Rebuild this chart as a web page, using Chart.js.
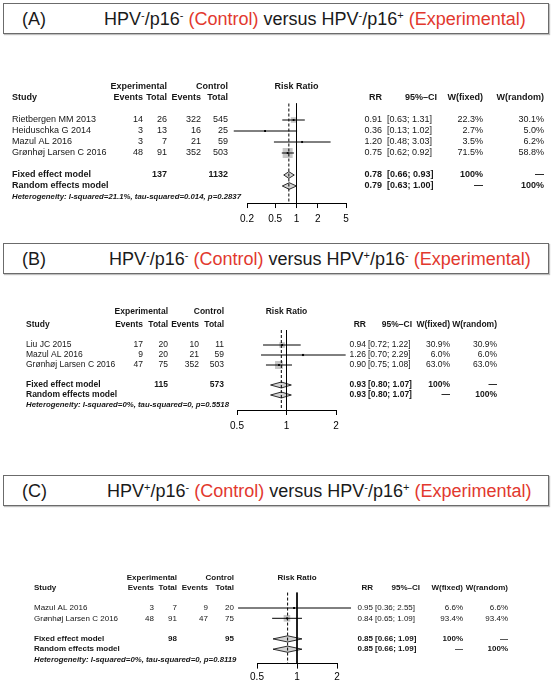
<!DOCTYPE html>
<html>
<head>
<meta charset="utf-8">
<script src="https://cdn.jsdelivr.net/npm/chart.js@4.4.1/dist/chart.umd.min.js"></script>
<style>
  html, body { margin: 0; padding: 0; background: #fff; }
  body { width: 552px; height: 685px; position: relative; overflow: hidden; font-family: "Liberation Sans", Arial, sans-serif; }
  .title { position: absolute; left: 3px; width: 544px; height: 29px; border: 1px solid #6b6b6b; box-shadow: 1px 1px 1px rgba(0,0,0,0.25); color: #1a1a1a; font-size: 18px; white-space: nowrap; }
  .title .tag { position: absolute; left: 18px; top: 5px; }
  .title .txt { position: absolute; top: 5px; }
  .title .red { color: #e2382e; }
  .title sup { font-size: 11px; vertical-align: 6px; line-height: 0; }
  .panel { position: absolute; left: 0; width: 552px; }
</style>
</head>
<body>

<div class="title" style="top:3px"><span class="tag">(A)</span><span class="txt" style="left:100px">HPV<sup>-</sup>/p16<sup>-</sup> <span class="red">(Control)</span> versus HPV<sup>-</sup>/p16<sup>+</sup> <span class="red">(Experimental)</span></span></div>
<div class="panel" style="top:60px;height:175px"><canvas id="forestA"></canvas></div>

<div class="title" style="top:243px"><span class="tag">(B)</span><span class="txt" style="left:105px">HPV<sup>-</sup>/p16<sup>-</sup> <span class="red">(Control)</span> versus HPV<sup>+</sup>/p16<sup>-</sup> <span class="red">(Experimental)</span></span></div>
<div class="panel" style="top:290px;height:150px"><canvas id="forestB"></canvas></div>

<div class="title" style="top:475px"><span class="tag">(C)</span><span class="txt" style="left:103px">HPV<sup>+</sup>/p16<sup>-</sup> <span class="red">(Control)</span> versus HPV<sup>-</sup>/p16<sup>+</sup> <span class="red">(Experimental)</span></span></div>
<div class="panel" style="top:560px;height:125px"><canvas id="forestC"></canvas></div>

<script>
// ---- (A) HPV-/p16- vs HPV-/p16+
const studiesA = ['Rietbergen MM 2013', 'Heiduschka G 2014', 'Mazul AL 2016', 'Grønhøj Larsen C 2016'];
const expEventsA = [14, 3, 3, 48];
const expTotalA = [26, 13, 7, 91];
const ctrlEventsA = [322, 16, 21, 352];
const ctrlTotalA = [545, 25, 59, 503];
const rrA = [0.91, 0.36, 1.20, 0.75];
const lowerA = [0.63, 0.13, 0.48, 0.62];
const upperA = [1.31, 1.02, 3.03, 0.92];
const wFixedA = [22.3, 2.7, 3.5, 71.5];
const wRandomA = [30.1, 5.0, 6.2, 58.8];
const modelRrA = [0.78, 0.79];     // fixed, random
const modelLowerA = [0.66, 0.63];
const modelUpperA = [0.93, 1.00];
const totalsA = [137, 1132];
const hetA = 'Heterogeneity: I-squared=21.1%, tau-squared=0.014, p=0.2837';
const ticksA = [0.2, 0.5, 1, 2, 5];
const tickLabelsA = ['0.2', '0.5', '1', '2', '5'];

// ---- (B) HPV-/p16- vs HPV+/p16-
const studiesB = ['Liu JC 2015', 'Mazul AL 2016', 'Grønhøj Larsen C 2016'];
const expEventsB = [17, 9, 47];
const expTotalB = [20, 20, 75];
const ctrlEventsB = [10, 21, 352];
const ctrlTotalB = [11, 59, 503];
const rrB = [0.94, 1.26, 0.90];
const lowerB = [0.72, 0.70, 0.75];
const upperB = [1.22, 2.29, 1.08];
const wFixedB = [30.9, 6.0, 63.0];
const wRandomB = [30.9, 6.0, 63.0];
const modelRrB = [0.93, 0.93];
const modelLowerB = [0.80, 0.80];
const modelUpperB = [1.07, 1.07];
const totalsB = [115, 573];
const hetB = 'Heterogeneity: I-squared=0%, tau-squared=0, p=0.5518';
const ticksB = [0.5, 1, 2];
const tickLabelsB = ['0.5', '1', '2'];

// ---- (C) HPV+/p16- vs HPV-/p16+
const studiesC = ['Mazul AL 2016', 'Grønhøj Larsen C 2016'];
const expEventsC = [3, 48];
const expTotalC = [7, 91];
const ctrlEventsC = [9, 47];
const ctrlTotalC = [20, 75];
const rrC = [0.95, 0.84];
const lowerC = [0.36, 0.65];
const upperC = [2.55, 1.09];
const wFixedC = [6.6, 93.4];
const wRandomC = [6.6, 93.4];
const modelRrC = [0.85, 0.85];
const modelLowerC = [0.66, 0.66];
const modelUpperC = [1.09, 1.09];
const totalsC = [98, 95];
const hetC = 'Heterogeneity: I-squared=0%, tau-squared=0, p=0.8119';
const ticksC = [0.5, 1, 2];
const tickLabelsC = ['0.5', '1', '2'];

// layout of each panel (pixels, page coordinates)
const layoutA = { top: 60, height: 175, rowTop: 120, rowStep: 11, axisRow: 7.55, headRows: [-3, -2], left: 247, right: 346, tickPad: 5,
  font: 9, hetFont: 7.8,
  studyX: 12, expEv: 143, expTot: 167, ctlEv: 201, ctlTot: 228, rr: 382, ci: 387, ciEnd: 437, wf: 483, wr: 544, box: 1.18 };
const layoutB = { top: 290, height: 150, rowTop: 345, rowStep: 10, axisRow: 6.5, headRows: [-3.3, -2], left: 237, right: 336, tickPad: 5,
  font: 8.5, hetFont: 7.8,
  studyX: 26, expEv: 143, expTot: 168, ctlEv: 199, ctlTot: 224, rr: 366, ci: 368, ciEnd: 412, wf: 450, wr: 497, box: 1.0 };
const layoutC = { top: 560, height: 125, rowTop: 608, rowStep: 10.3, axisRow: 5.4, headRows: [-2.9, -1.95], left: 257, right: 337, tickPad: 3,
  font: 8, hetFont: 7.8,
  studyX: 34, expEv: 154, expTot: 177, ctlEv: 208, ctlTot: 234, rr: 373, ci: 375, ciEnd: 420, wf: 463, wr: 508, box: 0.68 };

const FAM = '"Liberation Sans", Arial, sans-serif';
const AXIS_H = 21;
const INK = '#161616';

const fmt2 = (v) => v.toFixed(2);
const ciText = (lo, hi) => '[' + fmt2(lo) + '; ' + fmt2(hi) + ']';

// draws the study table around the plot
const tablePlugin = {
  id: 'forestTable',
  afterDraw(chart, args, opts) {
    const { ctx, chartArea } = chart;
    const y = chart.scales.y;
    const d = opts.d, L = opts.L;
    const py = (r) => y.getPixelForValue(r);
    const n = d.studies.length;
    const normal = L.font + 'px ' + FAM, bold = 'bold ' + L.font + 'px ' + FAM;

    ctx.save();
    ctx.fillStyle = INK;
    ctx.textBaseline = 'middle';
    const put = (s, x, r, align, font) => {
      ctx.font = font;
      ctx.textAlign = align;
      ctx.fillText(String(s), x, py(r));
    };

    // headers
    const h1 = L.headRows[0], h2 = L.headRows[1];
    put('Experimental', L.expTot, h1, 'right', bold);
    put('Control', L.ctlTot, h1, 'right', bold);
    put('Risk Ratio', (chartArea.left + chartArea.right) / 2, h1, 'center', bold);
    put('Study', L.studyX, h2, 'left', bold);
    put('Events', L.expEv, h2, 'right', bold);
    put('Total', L.expTot, h2, 'right', bold);
    put('Events', L.ctlEv, h2, 'right', bold);
    put('Total', L.ctlTot, h2, 'right', bold);
    put('RR', L.rr, h2, 'right', bold);
    put('95%\u2013CI', L.ciEnd, h2, 'right', bold);
    put('W(fixed)', L.wf, h2, 'right', bold);
    put('W(random)', L.wr, h2, 'right', bold);

    // studies
    d.studies.forEach((s, i) => {
      put(s, L.studyX, i, 'left', normal);
      put(d.expEvents[i], L.expEv, i, 'right', normal);
      put(d.expTotal[i], L.expTot, i, 'right', normal);
      put(d.ctrlEvents[i], L.ctlEv, i, 'right', normal);
      put(d.ctrlTotal[i], L.ctlTot, i, 'right', normal);
      put(fmt2(d.rr[i]), L.rr, i, 'right', normal);
      put(ciText(d.lower[i], d.upper[i]), L.ci, i, 'left', normal);
      put(d.wFixed[i].toFixed(1) + '%', L.wf, i, 'right', normal);
      put(d.wRandom[i].toFixed(1) + '%', L.wr, i, 'right', normal);
    });

    // pooled models
    const names = ['Fixed effect model', 'Random effects model'];
    names.forEach((name, k) => {
      const r = n + 1 + k;
      put(name, L.studyX, r, 'left', bold);
      if (k === 0) {
        put(d.totals[0], L.expTot, r, 'right', bold);
        put(d.totals[1], L.ctlTot, r, 'right', bold);
      }
      put(fmt2(d.modelRr[k]), L.rr, r, 'right', bold);
      put(ciText(d.modelLower[k], d.modelUpper[k]), L.ci, r, 'left', bold);
      put(k === 0 ? '100%' : '\u2014', L.wf, r, 'right', bold);
      put(k === 0 ? '\u2014' : '100%', L.wr, r, 'right', bold);
    });

    put(d.het, L.studyX, n + 3, 'left', 'italic bold ' + L.hetFont + 'px ' + FAM);
    ctx.restore();
  }
};

function buildDatasets(d, L) {
  const n = d.studies.length;
  const ds = [];
  const line = (pts, extra) => Object.assign({ data: pts, showLine: true, borderColor: '#000', borderWidth: 1, pointRadius: 0, tension: 0 }, extra);

  // line of no effect and fixed-effect estimate
  ds.push(line([{ x: 1, y: -1.5 }, { x: 1, y: L.axisRow }], { order: 3 }));
  ds.push(line([{ x: d.modelRr[0], y: -1.5 }, { x: d.modelRr[0], y: L.axisRow }], { borderDash: [3, 2], order: 2 }));

  // weight boxes
  ds.push({
    data: d.rr.map((v, i) => ({ x: v, y: i })),
    pointStyle: 'rect',
    pointRadius: d.wFixed.map((w) => L.box * Math.sqrt(w) / Math.SQRT2),
    backgroundColor: '#c6c6c6', borderWidth: 0, order: 6
  });

  // confidence intervals
  d.rr.forEach((v, i) => ds.push(line([{ x: d.lower[i], y: i }, { x: d.upper[i], y: i }], { order: 1 })));

  // point estimates
  ds.push({
    data: d.rr.map((v, i) => ({ x: v, y: i })),
    pointStyle: 'rect', pointRadius: 1.3, backgroundColor: '#000', borderWidth: 0, order: 0
  });

  // summary diamonds
  [0, 1].forEach((k) => {
    const r = n + 1 + k, h = 0.3;
    ds.push(line([
      { x: d.modelLower[k], y: r }, { x: d.modelRr[k], y: r - h },
      { x: d.modelUpper[k], y: r }, { x: d.modelRr[k], y: r + h },
      { x: d.modelLower[k], y: r }
    ], { fill: 'shape', backgroundColor: '#d2d2d2', borderWidth: 0.8, order: 5 }));
  });

  ds.forEach((s) => (s.clip = false));
  return ds;
}

function forest(id, d, L) {
  const padTop = L.rowTop - 1.5 * L.rowStep - L.top;
  const padBottom = L.top + L.height - (L.rowTop + L.axisRow * L.rowStep) - AXIS_H;
  return new Chart(document.getElementById(id), {
    type: 'scatter',
    data: { datasets: buildDatasets(d, L) },
    plugins: [tablePlugin],
    options: {
      responsive: true,
      maintainAspectRatio: false,
      animation: false,
      events: [],
      layout: { padding: { left: L.left, right: 552 - L.right, top: padTop, bottom: padBottom } },
      plugins: {
        legend: { display: false },
        tooltip: { enabled: false },
        forestTable: { d, L }
      },
      scales: {
        x: {
          type: 'logarithmic',
          min: d.ticks[0],
          max: d.ticks[d.ticks.length - 1],
          grid: { drawOnChartArea: false, drawTicks: true, tickLength: 5, color: '#000', lineWidth: 1 },
          border: { display: true, color: '#000', width: 1 },
          ticks: {
            autoSkip: false, maxRotation: 0, padding: L.tickPad, color: '#000',
            font: { family: FAM, size: 10 },
            callback: (v, i) => d.tickLabels[i]
          },
          afterBuildTicks: (axis) => { axis.ticks = d.ticks.map((v) => ({ value: v })); },
          afterFit: (axis) => { axis.height = AXIS_H; }
        },
        y: { type: 'linear', reverse: true, min: -1.5, max: L.axisRow, display: false }
      }
    }
  });
}

forest('forestA', {
  studies: studiesA, expEvents: expEventsA, expTotal: expTotalA, ctrlEvents: ctrlEventsA, ctrlTotal: ctrlTotalA,
  rr: rrA, lower: lowerA, upper: upperA, wFixed: wFixedA, wRandom: wRandomA,
  modelRr: modelRrA, modelLower: modelLowerA, modelUpper: modelUpperA, totals: totalsA, het: hetA,
  ticks: ticksA, tickLabels: tickLabelsA
}, layoutA);

forest('forestB', {
  studies: studiesB, expEvents: expEventsB, expTotal: expTotalB, ctrlEvents: ctrlEventsB, ctrlTotal: ctrlTotalB,
  rr: rrB, lower: lowerB, upper: upperB, wFixed: wFixedB, wRandom: wRandomB,
  modelRr: modelRrB, modelLower: modelLowerB, modelUpper: modelUpperB, totals: totalsB, het: hetB,
  ticks: ticksB, tickLabels: tickLabelsB
}, layoutB);

forest('forestC', {
  studies: studiesC, expEvents: expEventsC, expTotal: expTotalC, ctrlEvents: ctrlEventsC, ctrlTotal: ctrlTotalC,
  rr: rrC, lower: lowerC, upper: upperC, wFixed: wFixedC, wRandom: wRandomC,
  modelRr: modelRrC, modelLower: modelLowerC, modelUpper: modelUpperC, totals: totalsC, het: hetC,
  ticks: ticksC, tickLabels: tickLabelsC
}, layoutC);
</script>
</body>
</html>
